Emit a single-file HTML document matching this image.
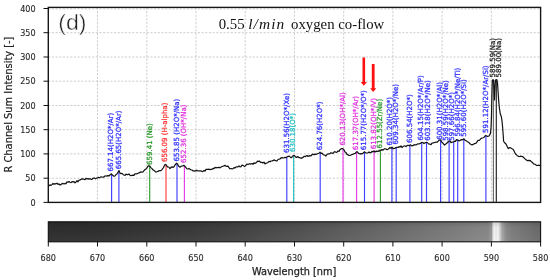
<!DOCTYPE html>
<html lang="en"><head><meta charset="utf-8"><title>Spectrum (d) 0.55 l/min oxygen co-flow</title>
<style>html,body{margin:0;padding:0;background:#fff;}svg{display:block;}text{font-family:"DejaVu Sans","Liberation Sans",sans-serif;}text.ti{font-family:"Liberation Serif",serif;}text.pd{font-family:"Liberation Sans",sans-serif;}</style></head><body>
<svg width="550" height="280" viewBox="0 0 550 280">
<defs><linearGradient id="strip" x1="0" y1="0" x2="1" y2="0">
<stop offset="0.0000" stop-color="#2e2e2e"/>
<stop offset="0.1050" stop-color="#303030"/>
<stop offset="0.2070" stop-color="#363636"/>
<stop offset="0.3080" stop-color="#3c3c3c"/>
<stop offset="0.4100" stop-color="#464646"/>
<stop offset="0.5110" stop-color="#525252"/>
<stop offset="0.6130" stop-color="#606060"/>
<stop offset="0.7140" stop-color="#6e6e6e"/>
<stop offset="0.8160" stop-color="#7c7c7c"/>
<stop offset="0.8930" stop-color="#888888"/>
<stop offset="0.9003" stop-color="#989898"/>
<stop offset="0.9034" stop-color="#e0e0e0"/>
<stop offset="0.9060" stop-color="#f8f8f8"/>
<stop offset="0.9095" stop-color="#e6e6e6"/>
<stop offset="0.9130" stop-color="#f8f8f8"/>
<stop offset="0.9165" stop-color="#dadada"/>
<stop offset="0.9216" stop-color="#a8a8a8"/>
<stop offset="0.9300" stop-color="#8a8a8a"/>
<stop offset="0.9420" stop-color="#7e7e7e"/>
<stop offset="0.9650" stop-color="#767676"/>
<stop offset="1.0000" stop-color="#6a6a6a"/>
</linearGradient>
<linearGradient id="stripv" x1="0" y1="0" x2="0" y2="1"><stop offset="0" stop-color="#000" stop-opacity="0.14"/><stop offset="0.3" stop-color="#000" stop-opacity="0.02"/><stop offset="1" stop-color="#fff" stop-opacity="0.04"/></linearGradient>
</defs>
<rect width="550" height="280" fill="#fff"/>
<g stroke="#bcbcbc" stroke-width="0.75" stroke-dasharray="2.1 1.55" fill="none">
<line x1="491.4" y1="7.4" x2="491.4" y2="202.4"/>
<line x1="442.1" y1="7.4" x2="442.1" y2="202.4"/>
<line x1="392.9" y1="7.4" x2="392.9" y2="202.4"/>
<line x1="343.7" y1="7.4" x2="343.7" y2="202.4"/>
<line x1="294.5" y1="7.4" x2="294.5" y2="202.4"/>
<line x1="245.2" y1="7.4" x2="245.2" y2="202.4"/>
<line x1="196.0" y1="7.4" x2="196.0" y2="202.4"/>
<line x1="146.8" y1="7.4" x2="146.8" y2="202.4"/>
<line x1="97.5" y1="7.4" x2="97.5" y2="202.4"/>
<line x1="48.3" y1="178.2" x2="540.6" y2="178.2"/>
<line x1="48.3" y1="153.9" x2="540.6" y2="153.9"/>
<line x1="48.3" y1="129.7" x2="540.6" y2="129.7"/>
<line x1="48.3" y1="105.5" x2="540.6" y2="105.5"/>
<line x1="48.3" y1="81.2" x2="540.6" y2="81.2"/>
<line x1="48.3" y1="57.0" x2="540.6" y2="57.0"/>
<line x1="48.3" y1="32.7" x2="540.6" y2="32.7"/>
<line x1="48.3" y1="8.9" x2="540.6" y2="8.9"/>
</g>
<g stroke-width="1.15" fill="none">
<line x1="111.6" y1="174.0" x2="111.6" y2="202.4" stroke="#4040ff"/>
<line x1="118.9" y1="170.7" x2="118.9" y2="202.4" stroke="#4040ff"/>
<line x1="149.7" y1="165.9" x2="149.7" y2="202.4" stroke="#2f9e2f"/>
<line x1="166.0" y1="164.9" x2="166.0" y2="202.4" stroke="#ff3c3c"/>
<line x1="177.0" y1="163.8" x2="177.0" y2="202.4" stroke="#4040ff"/>
<line x1="184.4" y1="165.8" x2="184.4" y2="202.4" stroke="#e63ae6"/>
<line x1="286.8" y1="156.9" x2="286.8" y2="202.4" stroke="#4040ff"/>
<line x1="293.6" y1="155.6" x2="293.6" y2="202.4" stroke="#28c4c4"/>
<line x1="320.2" y1="152.4" x2="320.2" y2="202.4" stroke="#4040ff"/>
<line x1="343.0" y1="149.0" x2="343.0" y2="202.4" stroke="#e63ae6"/>
<line x1="356.6" y1="152.0" x2="356.6" y2="202.4" stroke="#e63ae6"/>
<line x1="364.5" y1="151.8" x2="364.5" y2="202.4" stroke="#4040ff"/>
<line x1="374.1" y1="150.8" x2="374.1" y2="202.4" stroke="#e63ae6"/>
<line x1="380.4" y1="150.0" x2="380.4" y2="202.4" stroke="#2f9e2f"/>
<line x1="391.9" y1="147.2" x2="391.9" y2="202.4" stroke="#4040ff"/>
<line x1="396.2" y1="147.6" x2="396.2" y2="202.4" stroke="#4040ff"/>
<line x1="409.9" y1="144.9" x2="409.9" y2="202.4" stroke="#4040ff"/>
<line x1="421.7" y1="142.5" x2="421.7" y2="202.4" stroke="#4040ff"/>
<line x1="426.5" y1="142.5" x2="426.5" y2="202.4" stroke="#4040ff"/>
<line x1="440.6" y1="139.8" x2="440.6" y2="202.4" stroke="#4040ff"/>
<line x1="449.1" y1="141.1" x2="449.1" y2="202.4" stroke="#4040ff"/>
<line x1="453.7" y1="142.0" x2="453.7" y2="202.4" stroke="#4040ff"/>
<line x1="457.7" y1="139.9" x2="457.7" y2="202.4" stroke="#4040ff"/>
<line x1="463.8" y1="138.9" x2="463.8" y2="202.4" stroke="#4040ff"/>
<line x1="485.9" y1="135.4" x2="485.9" y2="202.4" stroke="#4040ff"/>
<line x1="493.4" y1="80.0" x2="493.4" y2="202.4" stroke="#6a6a6a"/>
<line x1="496.3" y1="80.0" x2="496.3" y2="202.4" stroke="#222"/>
</g>
<path d="M48.4 186.4 L49.3 185.6 L50.2 184.8 L51.1 185.4 L52.0 184.6 L53.0 183.5 L54.0 184.3 L55.0 183.7 L56.0 183.8 L57.0 183.2 L58.0 184.4 L59.0 183.8 L60.0 185.0 L61.0 184.6 L62.0 183.6 L63.0 183.4 L64.0 184.0 L65.0 183.4 L66.0 183.8 L67.0 181.9 L68.0 182.2 L69.0 181.5 L70.0 182.2 L71.0 182.6 L72.0 181.6 L73.0 181.9 L74.0 181.6 L75.0 182.9 L76.0 182.0 L77.0 180.6 L78.0 181.8 L79.0 180.2 L80.0 180.2 L81.0 179.2 L82.0 178.9 L83.0 179.1 L84.0 179.2 L85.0 179.7 L86.0 178.3 L87.0 178.9 L88.0 178.6 L89.0 179.1 L90.0 178.7 L91.0 179.3 L92.0 179.4 L92.9 178.3 L93.8 178.1 L94.7 178.1 L95.6 178.8 L96.5 178.1 L97.4 178.0 L98.3 177.4 L99.2 177.8 L100.2 177.3 L101.1 176.8 L102.0 177.0 L103.0 177.3 L104.0 176.9 L105.0 175.8 L106.0 176.2 L107.0 175.8 L108.0 175.6 L109.0 176.0 L110.0 175.0 L111.4 173.8 L113.0 175.6 L114.0 176.3 L115.0 176.0 L116.0 174.6 L117.0 174.0 L119.0 170.6 L120.0 173.1 L121.0 173.6 L122.0 173.3 L123.0 174.4 L124.0 175.0 L125.0 175.4 L126.0 174.1 L127.0 174.7 L128.0 174.6 L129.0 173.9 L130.0 175.3 L131.0 175.7 L132.0 175.4 L133.0 175.1 L134.0 175.4 L135.0 173.8 L136.0 173.8 L137.0 173.8 L138.0 173.3 L139.0 172.9 L140.0 172.4 L141.0 171.9 L142.0 172.2 L143.0 171.9 L144.0 170.6 L145.0 169.5 L146.0 168.9 L147.0 167.6 L148.3 165.8 L149.6 165.8 L150.8 167.6 L152.0 168.6 L153.2 170.0 L154.5 170.8 L155.7 172.0 L156.8 171.8 L158.0 171.4 L159.0 170.7 L160.0 170.6 L161.0 170.6 L162.2 169.4 L163.5 167.5 L164.6 165.0 L165.6 164.4 L166.6 165.5 L167.5 166.8 L168.8 167.0 L170.0 168.6 L171.0 167.4 L172.0 166.9 L173.0 167.4 L174.0 166.7 L175.0 165.0 L176.6 163.2 L177.6 163.9 L178.5 166.0 L180.0 167.2 L181.2 166.1 L182.5 166.0 L184.0 165.4 L185.0 166.3 L186.0 167.6 L187.0 169.0 L188.0 169.0 L189.0 168.4 L190.0 169.4 L191.0 169.8 L192.0 170.0 L192.9 170.9 L193.9 170.9 L194.9 171.2 L195.8 170.6 L196.9 170.4 L198.0 171.0 L199.2 170.9 L200.4 170.9 L201.6 171.2 L202.8 171.6 L204.0 170.4 L205.0 171.2 L206.0 169.4 L207.0 169.4 L208.0 169.3 L209.0 169.2 L210.0 169.6 L211.0 169.3 L212.0 169.3 L213.0 168.4 L214.0 168.6 L215.0 167.3 L216.0 167.9 L217.0 167.5 L218.0 167.6 L219.0 167.2 L220.0 167.9 L221.0 167.1 L222.0 166.5 L223.0 166.2 L224.0 166.0 L225.0 165.3 L226.0 166.2 L227.0 166.4 L228.0 166.1 L229.0 167.6 L230.0 168.8 L231.0 168.5 L232.0 168.8 L233.0 168.6 L234.0 167.6 L235.0 168.0 L236.0 167.0 L237.0 166.8 L238.0 166.8 L239.0 165.9 L240.0 166.9 L241.0 166.6 L242.0 165.1 L243.0 165.4 L244.5 166.6 L246.0 165.2 L247.0 164.0 L248.0 164.5 L249.0 163.9 L250.0 163.8 L251.0 164.1 L252.0 163.5 L253.0 164.4 L254.0 162.9 L255.0 163.4 L256.5 162.4 L257.5 161.2 L258.5 161.3 L259.5 161.1 L260.5 162.4 L261.8 162.4 L263.0 163.0 L264.0 162.1 L265.0 163.9 L266.0 163.2 L267.0 163.0 L268.0 162.4 L269.0 161.4 L270.0 161.8 L271.0 161.0 L272.0 160.9 L273.0 160.7 L274.0 159.9 L275.0 160.4 L276.0 160.8 L277.0 160.8 L278.0 159.5 L279.0 159.2 L280.0 159.0 L281.0 157.9 L282.0 157.7 L283.0 157.9 L284.0 158.0 L285.0 157.1 L286.0 157.9 L287.0 156.8 L288.2 156.3 L289.3 156.2 L290.5 157.4 L291.5 157.7 L292.5 156.3 L293.5 155.6 L294.5 155.5 L295.5 156.9 L296.5 157.4 L297.7 156.5 L298.8 157.6 L300.0 157.6 L301.0 158.4 L302.0 157.9 L303.0 157.4 L304.0 156.3 L305.0 156.6 L306.0 156.1 L307.0 155.5 L308.0 156.5 L309.0 155.9 L310.0 155.6 L311.0 155.8 L312.0 154.6 L313.0 154.1 L314.0 154.9 L315.0 154.0 L316.0 154.6 L317.0 154.0 L318.0 153.5 L319.0 153.2 L320.0 152.2 L321.0 153.4 L322.0 153.1 L323.0 154.4 L324.0 155.0 L325.0 155.2 L326.0 156.0 L327.0 154.5 L328.0 153.9 L329.0 153.8 L330.0 153.6 L331.0 152.7 L332.0 153.2 L333.0 153.3 L334.0 152.0 L335.0 151.6 L336.0 152.4 L337.0 152.2 L338.0 151.0 L339.0 151.4 L339.9 149.8 L340.9 149.0 L341.8 148.5 L342.8 148.6 L343.9 149.7 L345.0 152.0 L346.0 152.6 L347.0 154.4 L348.0 154.8 L349.0 155.5 L350.0 155.5 L351.0 155.0 L352.0 154.5 L353.0 154.4 L354.0 153.6 L355.2 153.3 L356.4 151.8 L357.4 151.8 L358.5 153.4 L359.8 153.8 L361.0 153.6 L362.1 153.8 L363.3 153.0 L364.4 151.8 L365.7 152.9 L367.0 153.0 L368.0 152.8 L369.0 152.1 L370.0 152.6 L371.0 152.7 L372.0 151.4 L373.0 151.9 L374.0 150.8 L375.0 152.0 L376.0 151.1 L377.0 151.6 L378.0 150.9 L379.0 151.4 L380.0 150.0 L381.0 150.5 L382.0 149.5 L383.0 150.2 L384.0 149.1 L385.0 148.7 L386.0 149.0 L387.0 149.7 L388.0 149.3 L389.0 148.6 L390.0 147.4 L391.0 148.3 L392.0 147.2 L393.0 148.8 L394.0 148.4 L395.0 148.3 L396.0 147.6 L397.0 147.2 L398.0 147.5 L399.0 146.6 L400.0 147.2 L401.0 145.9 L402.0 147.5 L403.0 146.6 L404.0 146.0 L405.0 145.9 L406.0 146.6 L407.0 145.6 L408.1 145.2 L409.3 145.8 L410.4 144.8 L411.7 145.9 L413.0 145.6 L414.0 144.8 L415.0 144.7 L416.0 145.0 L417.0 144.3 L418.0 143.8 L419.0 144.0 L420.3 143.4 L421.6 142.4 L422.8 142.5 L424.0 143.6 L425.2 142.8 L426.4 142.4 L427.4 142.5 L428.5 144.0 L430.0 144.2 L431.0 144.6 L432.0 143.1 L433.0 143.0 L434.0 142.6 L435.0 142.5 L436.0 142.0 L437.2 142.2 L438.5 140.8 L439.6 140.1 L440.6 139.8 L441.6 142.0 L442.5 142.6 L443.5 143.8 L444.5 145.0 L445.8 144.1 L447.0 143.0 L448.0 142.0 L449.0 141.0 L450.0 140.8 L451.0 142.6 L452.2 142.2 L453.5 142.0 L454.5 141.1 L455.5 141.4 L456.5 139.6 L457.5 139.8 L458.8 140.8 L460.0 140.6 L461.0 139.6 L462.0 140.0 L463.0 139.3 L464.0 138.8 L465.0 140.2 L466.0 140.6 L467.0 141.4 L468.0 142.0 L469.0 142.6 L470.0 143.8 L471.0 144.4 L472.0 145.0 L473.2 144.4 L474.5 143.6 L475.8 143.4 L477.0 142.0 L478.0 140.4 L479.0 140.5 L480.0 139.6 L481.0 138.5 L482.0 138.0 L483.0 137.8 L483.9 137.5 L484.9 136.2 L485.8 135.4 L487.5 136.4 L489.0 136.0 L490.4 133.6 L491.1 127.0 L491.5 116.0 L491.8 100.0 L492.1 86.0 L492.4 80.4 L493.0 79.6 L493.6 80.4 L494.0 88.0 L494.5 100.0 L495.0 88.0 L495.4 80.6 L496.0 79.5 L496.9 79.8 L497.5 83.0 L498.1 92.0 L498.7 101.0 L499.4 108.0 L500.3 114.0 L501.2 116.2 L501.9 120.0 L502.6 127.0 L503.2 135.0 L503.6 141.2 L504.6 142.8 L506.0 144.0 L507.2 146.6 L508.4 148.6 L510.0 147.6 L511.6 148.6 L513.3 149.6 L514.5 152.0 L515.5 154.0 L517.0 155.4 L518.8 156.6 L519.7 156.5 L520.6 156.2 L522.4 156.5 L524.0 157.8 L525.8 159.6 L527.4 160.7 L529.0 160.3 L530.4 160.6 L531.4 161.9 L532.4 162.2 L533.4 163.9 L534.4 164.0 L535.4 164.5 L536.4 165.3 L537.4 165.5 L538.4 165.2 L539.3 165.4 L540.2 165.6" fill="none" stroke="#111" stroke-width="1.2" stroke-linejoin="round"/>
<rect x="48.3" y="7.4" width="492.3" height="195.0" fill="none" stroke="#161616" stroke-width="1.4"/>
<g stroke="#111" stroke-width="1">
<line x1="43.5" y1="202.4" x2="48.3" y2="202.4"/>
<line x1="43.5" y1="178.2" x2="48.3" y2="178.2"/>
<line x1="43.5" y1="153.9" x2="48.3" y2="153.9"/>
<line x1="43.5" y1="129.7" x2="48.3" y2="129.7"/>
<line x1="43.5" y1="105.5" x2="48.3" y2="105.5"/>
<line x1="43.5" y1="81.2" x2="48.3" y2="81.2"/>
<line x1="43.5" y1="57.0" x2="48.3" y2="57.0"/>
<line x1="43.5" y1="32.7" x2="48.3" y2="32.7"/>
<line x1="43.5" y1="8.5" x2="48.3" y2="8.5"/>
</g>
<g font-size="8.1" fill="#2a2a2a" stroke="#2a2a2a" stroke-width="0.12" text-anchor="end">
<text x="35.6" y="205.5">0</text>
<text x="35.6" y="181.3">50</text>
<text x="35.6" y="157.0">100</text>
<text x="35.6" y="132.8">150</text>
<text x="35.6" y="108.5">200</text>
<text x="35.6" y="84.3">250</text>
<text x="35.6" y="60.1">300</text>
<text x="35.6" y="35.8">350</text>
<text x="35.6" y="11.6">400</text>
</g>
<text transform="translate(12.1 104.5) rotate(-90)" font-size="9.85" fill="#222" stroke="#222" stroke-width="0.2" text-anchor="middle">R Channel Sum Intensity [-]</text>
<g font-size="7.0" stroke-width="0.25">
<text transform="translate(113.4 171.5) rotate(-90)" fill="#2e2eff" stroke="#2e2eff">667.14(H2O*/Ar)</text>
<text transform="translate(120.8 169.2) rotate(-90)" fill="#2e2eff" stroke="#2e2eff">665.65(H2O*/Ar)</text>
<text transform="translate(151.5 164.9) rotate(-90)" fill="#2a9a2a" stroke="#2a9a2a">659.41 (Ne)</text>
<text transform="translate(167.2 162.0) rotate(-90)" fill="#ff3030" stroke="#ff3030">656.09 (H-alpha)</text>
<text transform="translate(178.9 161.5) rotate(-90)" fill="#2e2eff" stroke="#2e2eff">653.85 (H2O*/Na)</text>
<text transform="translate(186.2 162.9) rotate(-90)" fill="#e030e0" stroke="#e030e0">652.36 (OH*/Na)</text>
<text transform="translate(288.6 152.9) rotate(-90)" fill="#2e2eff" stroke="#2e2eff">631.56(H2O*/Xe)</text>
<text transform="translate(295.4 152.0) rotate(-90)" fill="#20c0c0" stroke="#20c0c0">630.18(O*)</text>
<text transform="translate(322.1 150.2) rotate(-90)" fill="#2e2eff" stroke="#2e2eff">624.76(H2O*)</text>
<text transform="translate(344.9 145.6) rotate(-90)" fill="#e030e0" stroke="#e030e0">620.13(OH*/Al)</text>
<text transform="translate(358.4 150.2) rotate(-90)" fill="#e030e0" stroke="#e030e0">617.37(OH*/Ar)</text>
<text transform="translate(366.3 150.2) rotate(-90)" fill="#2e2eff" stroke="#2e2eff">615.77(H2O*/O*)</text>
<text transform="translate(375.9 149.3) rotate(-90)" fill="#e030e0" stroke="#e030e0">613.82(OH*/V)</text>
<text transform="translate(382.2 148.4) rotate(-90)" fill="#2a9a2a" stroke="#2a9a2a">612.55(Zr/Ne)</text>
<text transform="translate(392.4 145.6) rotate(-90)" fill="#2e2eff" stroke="#2e2eff">610.20(H2O*)</text>
<text transform="translate(398.0 144.6) rotate(-90)" fill="#2e2eff" stroke="#2e2eff">609.34(H2O*/Ne)</text>
<text transform="translate(411.8 142.9) rotate(-90)" fill="#2e2eff" stroke="#2e2eff">606.54(H2O*)</text>
<text transform="translate(423.2 140.6) rotate(-90)" fill="#2e2eff" stroke="#2e2eff">604.15(H2O*/Ar/P)</text>
<text transform="translate(430.0 140.8) rotate(-90)" fill="#2e2eff" stroke="#2e2eff">603.18(H2O*/Ne)</text>
<text transform="translate(442.4 139.8) rotate(-90)" fill="#2e2eff" stroke="#2e2eff">600.31(H2O*/Al)</text>
<text transform="translate(448.4 140.8) rotate(-90)" fill="#2e2eff" stroke="#2e2eff">598.59(H2O*/Ne)</text>
<text transform="translate(453.6 140.8) rotate(-90)" fill="#2e2eff" stroke="#2e2eff">597.66(H2O*)</text>
<text transform="translate(459.5 136.6) rotate(-90)" fill="#2e2eff" stroke="#2e2eff">596.84(H2O*/Ne/Ti)</text>
<text transform="translate(465.6 136.8) rotate(-90)" fill="#2e2eff" stroke="#2e2eff">595.60(H2O*/Si)</text>
<text transform="translate(487.7 132.9) rotate(-90)" fill="#2e2eff" stroke="#2e2eff">591.12(H2O*/Ar/Si)</text>
<text transform="translate(494.9 77.4) rotate(-90)" fill="#222" stroke="#222">589.59(Na)</text>
<text transform="translate(500.9 77.4) rotate(-90)" fill="#222" stroke="#222">589.00(Na)</text>
</g>
<path d="M362.5 57.5 H365.1 V82.0 H366.9 L363.8 85.8 L360.7 82.0 H362.5 Z" fill="#ff1010"/>
<path d="M371.8 63.9 H374.6 V88.2 H376.3 L373.2 91.9 L370.1 88.2 H371.8 Z" fill="#ff1010"/>
<g font-size="14.8" fill="#111"><text class="ti" x="218.7" y="29.4">0.55</text><text class="ti" x="248.2" y="29.4" font-size="15.4" font-style="italic" letter-spacing="1.1">l/min</text><text class="ti" x="291" y="29.4">oxygen co-flow</text></g>
<text class="pd" transform="translate(58.2 30) scale(1.05 1)" font-size="22" fill="#222" stroke="#fff" stroke-width="0.45">(d)</text>
<rect x="48.3" y="221.8" width="492.3" height="20.0" fill="url(#strip)"/>
<rect x="48.3" y="221.8" width="492.3" height="20.0" fill="url(#stripv)"/>
<rect x="48.3" y="221.8" width="492.3" height="20.0" fill="none" stroke="#111" stroke-width="1.1"/>
<g stroke="#111" stroke-width="1">
<line x1="540.6" y1="241.8" x2="540.6" y2="246.5"/>
<line x1="491.4" y1="241.8" x2="491.4" y2="246.5"/>
<line x1="442.1" y1="241.8" x2="442.1" y2="246.5"/>
<line x1="392.9" y1="241.8" x2="392.9" y2="246.5"/>
<line x1="343.7" y1="241.8" x2="343.7" y2="246.5"/>
<line x1="294.5" y1="241.8" x2="294.5" y2="246.5"/>
<line x1="245.2" y1="241.8" x2="245.2" y2="246.5"/>
<line x1="196.0" y1="241.8" x2="196.0" y2="246.5"/>
<line x1="146.8" y1="241.8" x2="146.8" y2="246.5"/>
<line x1="97.5" y1="241.8" x2="97.5" y2="246.5"/>
<line x1="48.3" y1="241.8" x2="48.3" y2="246.5"/>
</g>
<g font-size="8.1" fill="#2a2a2a" stroke="#2a2a2a" stroke-width="0.12" text-anchor="middle">
<text x="540.6" y="260.6">580</text>
<text x="491.4" y="260.6">590</text>
<text x="442.1" y="260.6">600</text>
<text x="392.9" y="260.6">610</text>
<text x="343.7" y="260.6">620</text>
<text x="294.5" y="260.6">630</text>
<text x="245.2" y="260.6">640</text>
<text x="196.0" y="260.6">650</text>
<text x="146.8" y="260.6">660</text>
<text x="97.5" y="260.6">670</text>
<text x="48.3" y="260.6">680</text>
</g>
<text x="294.2" y="274.7" font-size="9.75" fill="#222" stroke="#222" stroke-width="0.25" text-anchor="middle">Wavelength [nm]</text>
</svg></body></html>
